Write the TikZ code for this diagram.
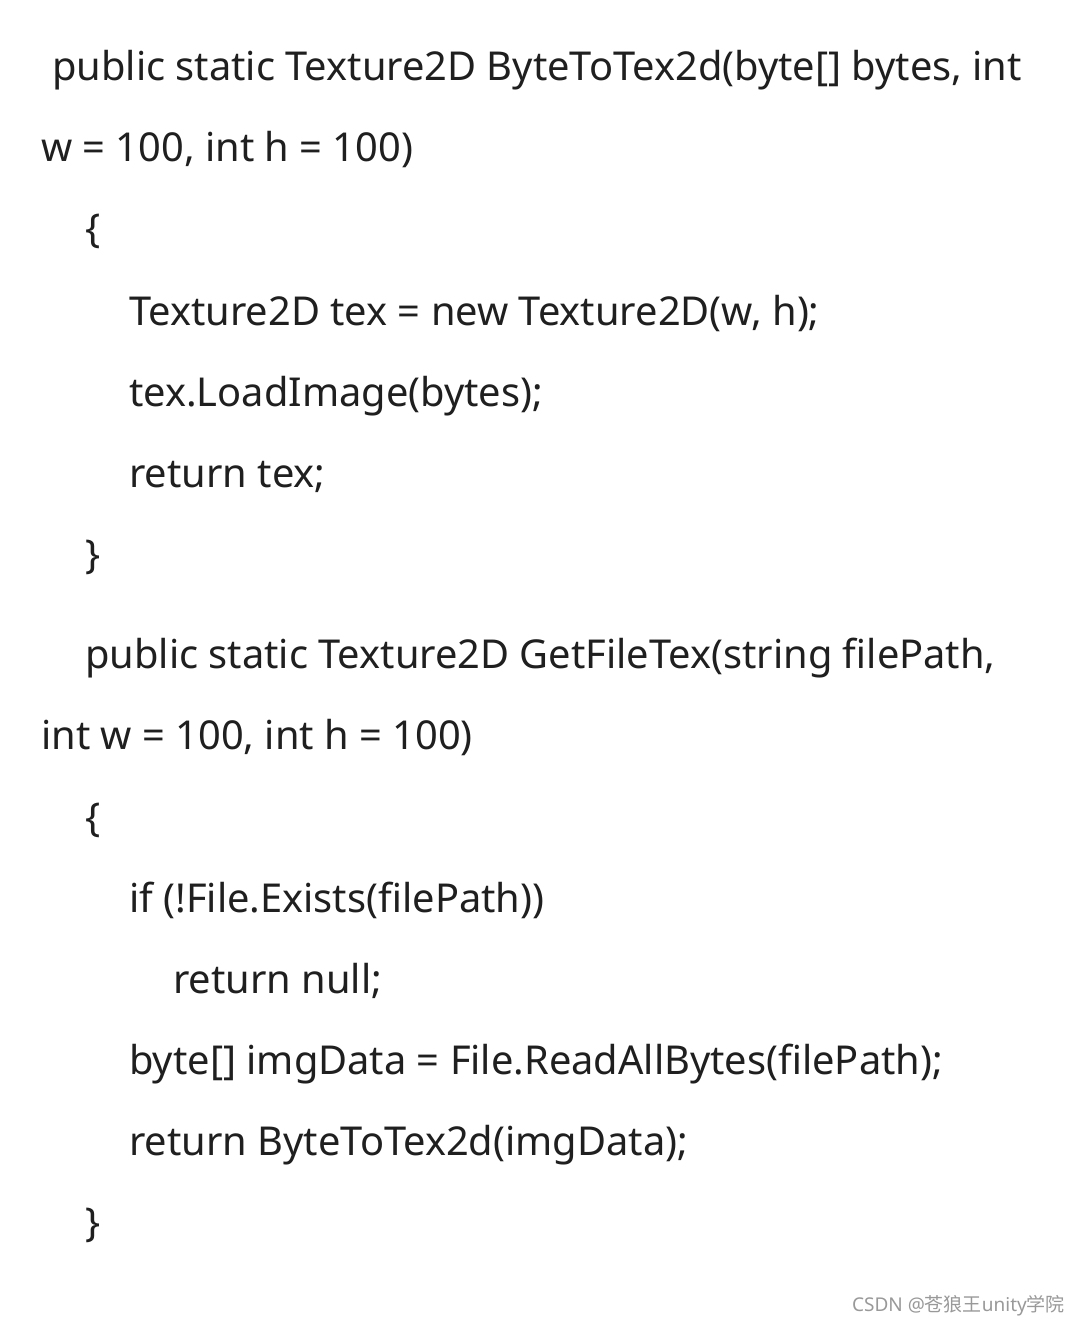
\documentclass[tikz,border=0pt]{standalone}
\usepackage{fontspec}
\setmainfont{Noto Sans}
\newfontfamily\cjk{Noto Sans CJK SC}
\begin{document}
\begin{tikzpicture}[x=1pt,y=-1pt,
  code/.style={anchor=base west,inner sep=0pt,font=\fontsize{39.8}{44}\selectfont,text=black!88}]
\useasboundingbox[fill=white] (0,0) rectangle (1080,1324);
\node[code] (l1) at (52,81) {public static Texture2D ByteToTex2d(byte[] bytes, int};
\node[code] (l2) at (41,162) {w = 100, int h = 100)};
\node[code] (l3) at (85,243) {\{};
\node[code] (l4) at (129,325) {Texture2D tex = new Texture2D(w, h);};
\node[code] (l5) at (129,406) {tex.LoadImage(bytes);};
\node[code] (l6) at (129,487) {return tex;};
\node[code] (l7) at (85,568) {\}};
\node[code] (l8) at (85,668) {public static Texture2D GetFileTex(string filePath,};
\node[code] (l9) at (41,749) {int w = 100, int h = 100)};
\node[code] (l10) at (85,831) {\{};
\node[code] (l11) at (129,912) {if (!File.Exists(filePath))};
\node[code] (l12) at (173,993) {return null;};
\node[code] (l13) at (129,1074) {byte[] imgData = File.ReadAllBytes(filePath);};
\node[code] (l14) at (129,1155) {return ByteToTex2d(imgData);};
\node[code] (l15) at (85,1236) {\}};
\node[anchor=base east,inner sep=0pt,text=black!40,font=\fontsize{19}{22}\selectfont] (wm) at (1065,1311) {CSDN @{\cjk 苍狼王}unity{\cjk 学院}};
\end{tikzpicture}
\end{document}
